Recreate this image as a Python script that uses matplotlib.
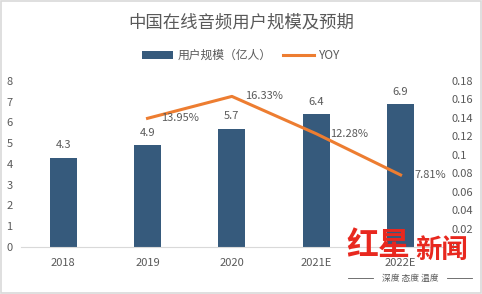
import matplotlib
matplotlib.use("Agg")
import matplotlib.pyplot as plt
from matplotlib.patches import Rectangle

plt.rcParams['font.family'] = ['Noto Sans CJK SC', 'DejaVu Sans']

years = ['2018', '2019', '2020', '2021E', '2022E']
users = [4.3, 4.9, 5.7, 6.4, 6.9]
yoy_years = ['2019', '2020', '2021E', '2022E']
yoy = [0.1395, 0.1633, 0.1228, 0.0781]
yoy_labels = ['13.95%', '16.33%', '12.28%', '7.81%']

bar_color = '#365A7C'
line_color = '#ED7D31'
text_color = '#595959'

fig = plt.figure(figsize=(4.82, 2.94), dpi=100)
fig.patches.append(Rectangle((0.002, 0.003), 0.995, 0.994, transform=fig.transFigure,
                             fill=False, edgecolor='#D9D9D9', linewidth=1.2))

ax = fig.add_axes([0.0436, 0.160, 0.875, 0.5645])
x = list(range(len(years)))
bars = ax.bar(x, users, width=0.32, color=bar_color, label='用户规模（亿人）', zorder=2)
ax.set_xlim(-0.5, len(years) - 0.5)
ax.set_ylim(0, 8)
ax.set_yticks(range(0, 9))
ax.set_xticks(x)
ax.set_xticklabels(years)
for s in ['top', 'right', 'left']:
    ax.spines[s].set_visible(False)
ax.spines['bottom'].set_color('#D9D9D9')
ax.tick_params(axis='both', length=0, colors=text_color, labelsize=8)
ax.tick_params(axis='x', pad=8)
ax.tick_params(axis='y', pad=6)
for xi, v in zip(x, users):
    ax.text(xi, v + 0.35, f'{v}', ha='center', va='bottom', fontsize=8, color=text_color)

ax2 = ax.twinx()
xl = [years.index(y) for y in yoy_years]
line, = ax2.plot(xl, yoy, color=line_color, linewidth=2.2, label='YOY', zorder=2)
ax2.set_ylim(0, 0.18)
ax2.set_yticks([0, 0.02, 0.04, 0.06, 0.08, 0.1, 0.12, 0.14, 0.16, 0.18])
ax2.set_yticklabels(['0', '0.02', '0.04', '0.06', '0.08', '0.1', '0.12', '0.14', '0.16', '0.18'])
for s in ['top', 'right', 'left', 'bottom']:
    ax2.spines[s].set_visible(False)
ax2.tick_params(axis='y', length=0, colors=text_color, labelsize=8, pad=6)
for xi, v, lab in zip(xl, yoy, yoy_labels):
    ax2.text(xi + 0.16, v, lab, ha='left', va='center', fontsize=8, color=text_color, zorder=5)

fig.text(0.5, 0.922, '中国在线音频用户规模及预期', ha='center', va='center', fontsize=12.5, color=text_color)
fig.legend(handles=[bars, line], loc='center', bbox_to_anchor=(0.5, 0.812), ncol=2, frameon=False,
           fontsize=8.5, labelcolor=text_color, handlelength=2.6, columnspacing=1.0, handletextpad=0.4)

# watermark
fig.text(0.786, 0.165, '红星', fontsize=23, color='#E8281F', ha='center', va='center',
         fontweight='bold', style='italic', zorder=10)
fig.text(0.917, 0.148, '新闻', fontsize=19, color='#E8281F', ha='center', va='center',
         fontweight='bold', zorder=10)
fig.text(0.851, 0.054, '深度 态度 温度', fontsize=6.3, color='#595959', ha='center', va='center')
fig.lines.append(plt.Line2D([0.722, 0.774], [0.054, 0.054], transform=fig.transFigure, color='#595959', linewidth=0.6))
fig.lines.append(plt.Line2D([0.927, 0.98], [0.054, 0.054], transform=fig.transFigure, color='#595959', linewidth=0.6))

fig.savefig('out.png', dpi=100, facecolor='white')
